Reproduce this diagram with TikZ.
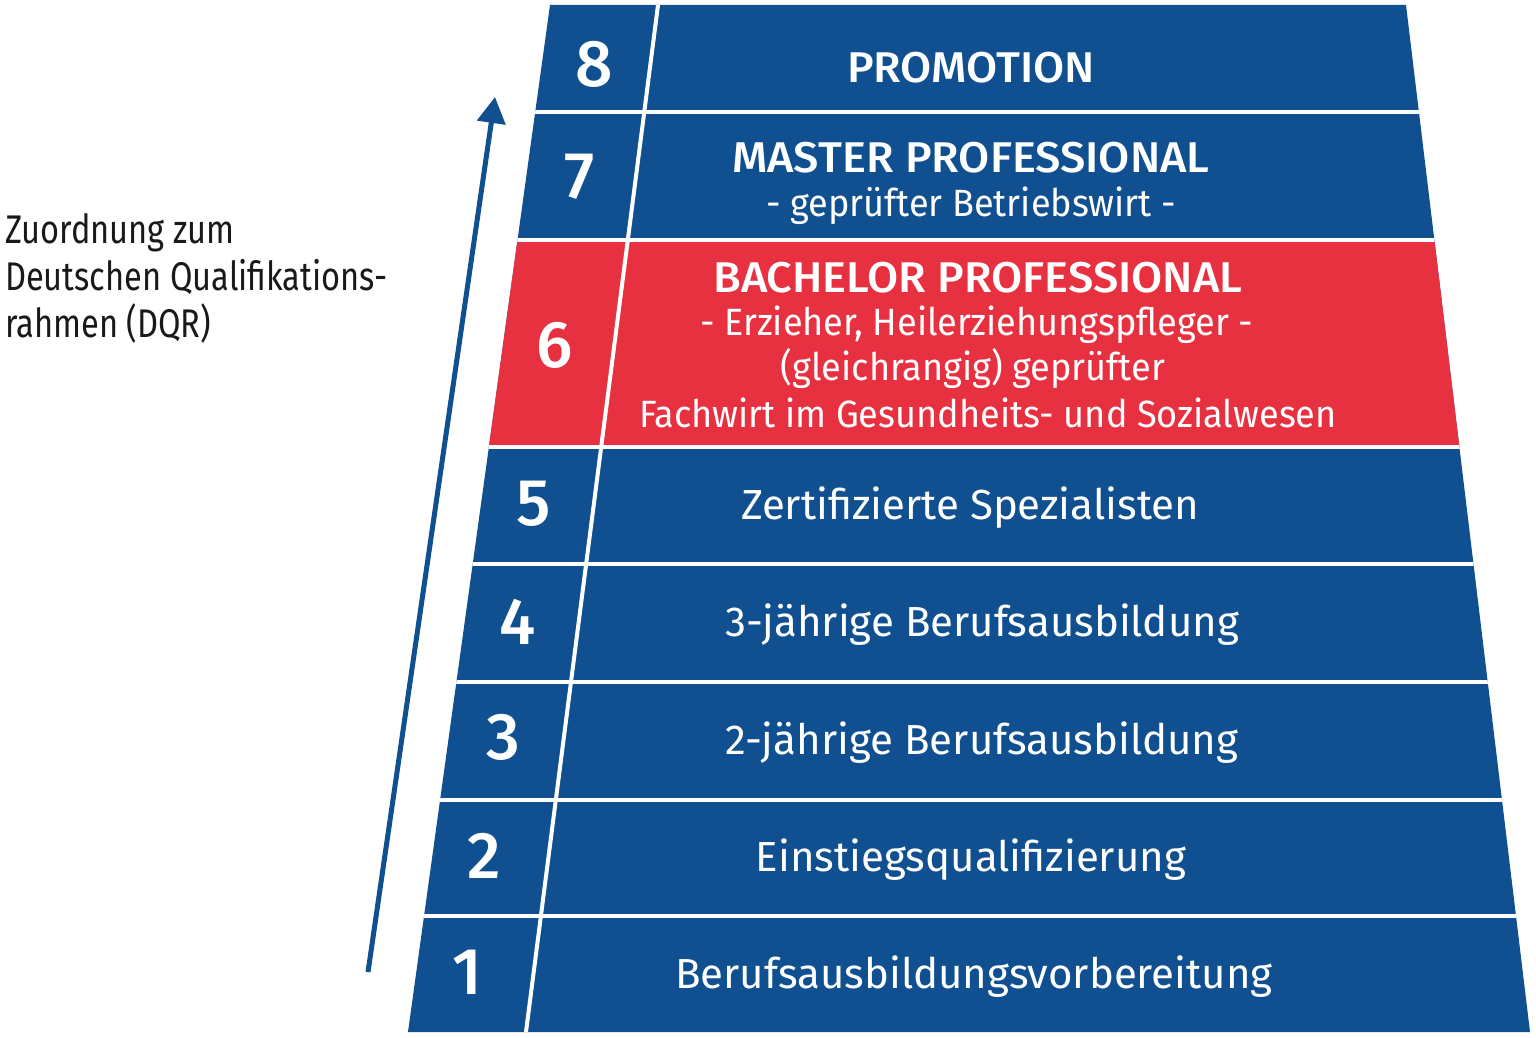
\documentclass[tikz,border=0pt]{standalone}
\usepackage{fontspec}
\setmainfont{Fira Sans}
\newfontfamily\sidefont{Fira Sans}[FakeStretch=0.815]
\newfontfamily\bodyfont{Fira Sans}[FakeStretch=1.0]
\newfontfamily\subfont{Fira Sans}[FakeStretch=0.95]
\newfontfamily\headfont{Fira Sans Medium}[FakeStretch=1.05]
\newfontfamily\numfont{Fira Sans Medium}
\usetikzlibrary{arrows.meta}
\definecolor{dqrblue}{RGB}{16,80,144}
\definecolor{dqrred}{RGB}{231,49,64}
\begin{document}
\begin{tikzpicture}[x=1pt,y=-1pt,
  lvlnum/.style={text=white,font=\numfont\fontsize{66}{66}\selectfont,inner sep=0pt},
  lvltxt/.style={text=white,font=\bodyfont\fontsize{42}{42}\selectfont,inner sep=0pt},
  lvlhead/.style={text=white,font=\headfont\fontsize{43}{43}\selectfont,inner sep=0pt},
  lvlsub/.style={text=white,font=\subfont\fontsize{38}{38}\selectfont,inner sep=0pt},
  sidetxt/.style={text=black!90,font=\sidefont\fontsize{40}{40}\selectfont,inner sep=0pt,anchor=base west},
  gapline/.style={white,line width=4pt},
]
\useasboundingbox[fill=white] (0,0) rectangle (1536,1038);
% pyramid body
\fill[dqrblue] (550,5) -- (1406,5) -- (1530,1032) -- (408,1032) -- cycle;
\fill[dqrred] (517.5,240) -- (1434.4,240) -- (1459.3,446.5) -- (488.9,446.5) -- cycle;
\begin{scope}
  \clip (550,5) -- (1406,5) -- (1530,1032) -- (408,1032) -- cycle;
  \foreach \y in {112.5,240,446.5,563.5,682,799.5,915.5}
    \draw[gapline] (300,\y) -- (1600,\y);
  \draw[gapline] (659.3,-5) -- (524.7,1042);
\end{scope}
% arrow
\coordinate (arrS) at (368,972);
\coordinate (arrE) at (495,97);
\draw[dqrblue,line width=5pt,-{Triangle[length=26pt,width=28pt]}] (arrS) -- (arrE);
% side text
\node[sidetxt] (side1) at (5,243) {Zuordnung zum};
\node[sidetxt] (side2) at (5,290) {Deutschen Qualifikations-};
\node[sidetxt] (side3) at (5,337) {rahmen (DQR)};
% level numbers
\node[lvlnum] (n8) at (594,64) {8};
\node[lvlnum] (n7) at (580,177) {7};
\node[lvlnum] (n6) at (555,345) {6};
\node[lvlnum] (n5) at (534,504) {5};
\node[lvlnum] (n4) at (518,622) {4};
\node[lvlnum] (n3) at (503,737) {3};
\node[lvlnum] (n2) at (484,856) {2};
\node[lvlnum] (n1) at (467,972) {1};
% level texts
\node[lvlhead] (t8) at (971,68) {PROMOTION};
\node[lvlhead] (t7) at (971,158) {MASTER PROFESSIONAL};
\node[lvlsub] (t7b) at (971,206) {- geprüfter Betriebswirt -};
\node[lvlhead] (t6) at (978,278) {BACHELOR PROFESSIONAL};
\node[lvlsub] (t6b) at (977,325) {- Erzieher, Heilerziehungspfleger -};
\node[lvlsub] (t6c) at (973,368) {(gleichrangig) geprüfter};
\node[lvlsub] (t6d) at (988,413) {Fachwirt im Gesundheits- und Sozialwesen};
\node[lvltxt] (t5) at (970,508) {Zertifizierte Spezialisten};
\node[lvltxt] (t4) at (982,625) {3-jährige Berufsausbildung};
\node[lvltxt] (t3) at (982,743) {2-jährige Berufsausbildung};
\node[lvltxt] (t2) at (971,860) {Einstiegsqualifizierung};
\node[lvltxt] (t1) at (974,977) {Berufsausbildungsvorbereitung};
\end{tikzpicture}
\end{document}
